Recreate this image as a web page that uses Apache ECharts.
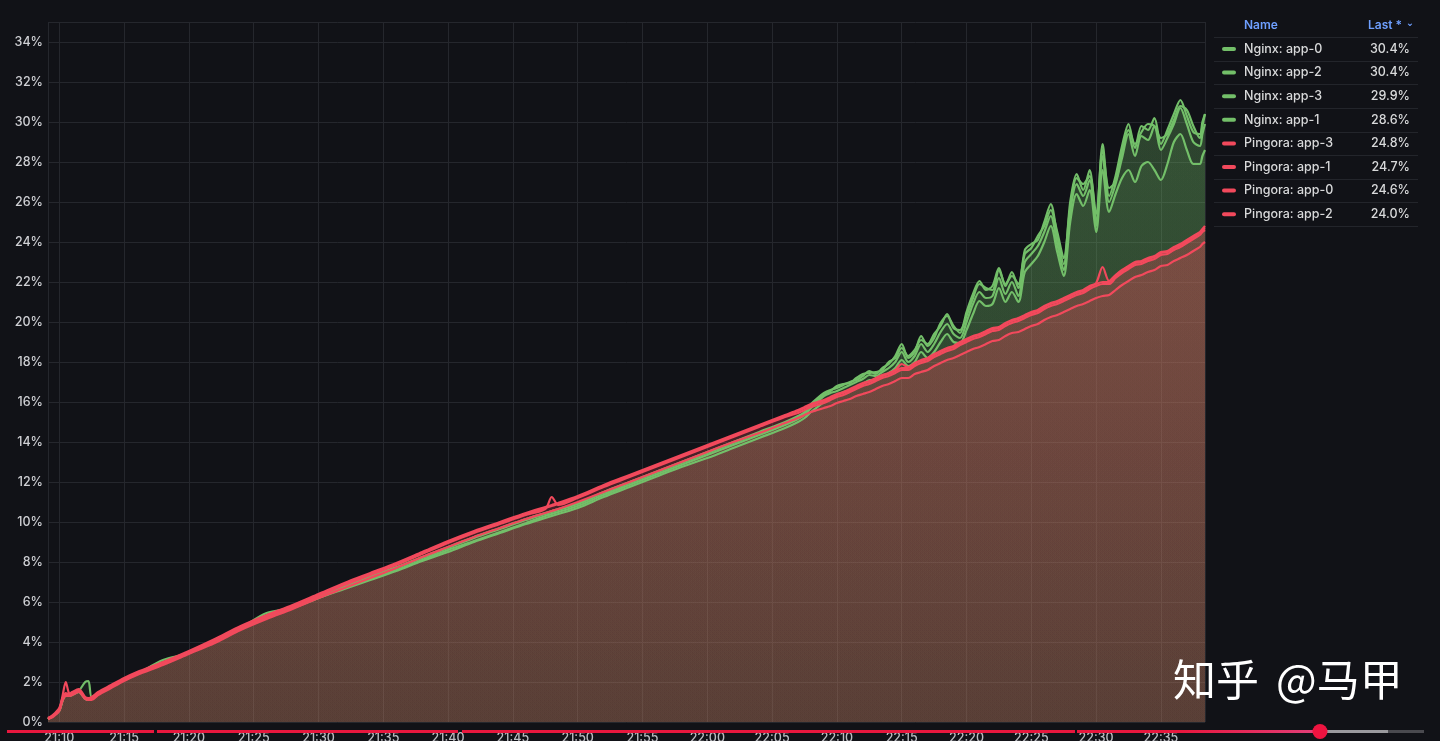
<!DOCTYPE html>
<html>
<head>
<meta charset="utf-8">
<script src="https://cdn.jsdelivr.net/npm/echarts@6/dist/echarts.min.js"></script>
<style>
html,body{margin:0;padding:0;background:#111217;}
#chart{width:1440px;height:741px;}
</style>
</head>
<body>
<div id="chart"></div>
<script>
// minutes after 21:10
const minutes = [
 -0.87,-0.5,0,0.25,0.5,0.75,1,1.5,2,2.25,2.5,3,4,
 5,6,8,10,12,14,16,18,20,22,
 24,26,28,30,32,34,36,37.5,38,38.5,
 40,42,44,46,48,50,52,54,56,
 57,57.5,58,58.5,59,59.5,60,60.5,61,61.5,
 62,62.5,63,63.5,64,64.5,65,65.5,66,66.5,
 67,67.5,68,68.5,69,69.5,70,70.5,71,71.5,
 72,72.5,73,73.5,74,74.5,75,75.5,76,76.5,
 77,77.5,78,78.5,79,79.5,80,80.5,81,81.5,
 82,82.5,83,83.5,84,84.5,85,85.5,86,86.5,
 87,87.5,88,88.2,88.4
];

const nginxApp0 = [
 0.15,0.3,0.6,1.1,1.35,1.35,1.4,1.55,1.2,1.15,1.2,1.45,1.8,
 2.15,2.45,2.95,3.5,4.1,4.75,5.3,5.8,6.3,6.8,
 7.3,7.75,8.25,8.75,9.25,9.7,10.15,10.45,10.55,10.65,
 10.95,11.5,12.0,12.5,13.0,13.5,14.0,14.5,15.0,
 15.3,15.5,15.9,16.2,16.45,16.6,16.7,16.85,17.0,17.1,
 17.3,17.55,17.4,17.7,17.9,18.3,18.9,18.2,18.5,19.3,
 18.8,19.2,19.95,20.3,19.8,19.45,20.5,21.4,22.05,21.6,
 21.8,22.7,21.8,22.5,21.7,23.6,23.9,24.1,25.0,25.9,
 24.3,22.9,26.0,27.4,26.6,27.6,25.0,28.9,26.3,27.3,
 28.8,29.9,28.7,29.8,29.6,30.2,28.9,29.6,30.4,31.1,
 30.3,29.5,29.4,30.0,30.4
];
const nginxApp2 = [
 0.15,0.3,0.6,1.1,1.35,1.35,1.4,1.55,2.0,2.05,1.25,1.45,1.8,
 2.15,2.45,2.95,3.5,4.1,4.7,5.25,5.75,6.25,6.75,
 7.25,7.7,8.2,8.7,9.2,9.65,10.1,10.4,10.5,10.6,
 10.9,11.45,11.95,12.45,12.95,13.45,13.95,14.45,14.95,
 15.25,15.45,15.85,16.1,16.4,16.55,16.8,16.9,16.95,17.2,
 17.4,17.45,17.5,17.6,18.0,18.2,18.7,18.3,18.6,19.1,
 18.9,19.4,19.8,20.4,19.7,19.6,20.3,21.2,21.9,21.7,
 21.6,22.6,21.9,22.3,21.9,23.4,23.7,24.3,24.8,25.6,
 24.5,23.2,25.7,27.2,26.9,27.3,25.4,28.6,26.7,27.0,
 28.5,29.6,28.9,29.5,29.9,29.8,29.2,29.4,30.1,30.8,
 30.6,29.8,29.2,29.8,30.4
];
const nginxApp3 = [
 0.15,0.3,0.6,1.1,1.35,1.35,1.4,1.5,1.2,1.1,1.15,1.4,1.75,
 2.1,2.4,3.1,3.45,4.05,4.7,5.45,5.7,6.2,6.7,
 7.15,7.6,8.1,8.6,9.05,9.5,9.95,10.3,10.4,10.5,
 10.8,11.35,11.85,12.35,12.85,13.35,13.85,14.35,14.85,
 15.15,15.35,15.7,16.0,16.3,16.45,16.55,16.7,16.85,17.0,
 17.15,17.35,17.3,17.5,17.7,18.0,18.5,18.0,18.3,18.9,
 18.5,18.9,19.5,19.9,19.4,19.2,20.0,20.9,21.5,21.2,
 21.3,22.2,21.4,22.0,21.3,23.0,23.4,23.8,24.5,25.3,
 23.9,22.6,25.5,26.9,26.3,27.1,24.8,28.3,26.0,26.9,
 28.2,29.4,28.3,29.3,29.1,29.8,28.6,29.2,29.9,30.7,
 29.9,29.0,28.8,29.4,29.9
];
const nginxApp1 = [
 0.15,0.3,0.55,1.05,1.3,1.3,1.35,1.5,1.15,1.1,1.15,1.4,1.75,
 2.1,2.4,2.9,3.45,4.05,4.65,5.2,5.7,6.2,6.65,
 7.1,7.55,8.05,8.5,9.0,9.45,9.9,10.2,10.3,10.4,
 10.7,11.25,11.75,12.25,12.75,13.2,13.7,14.2,14.7,
 15.0,15.2,15.5,15.75,16.0,16.2,16.35,16.5,16.6,16.75,
 16.9,17.1,17.1,17.3,17.45,17.7,18.1,17.8,18.0,18.5,
 18.2,18.5,19.0,19.4,19.0,18.95,19.6,20.4,21.05,20.8,
 20.9,21.7,21.0,21.5,21.0,22.5,22.9,23.3,24.0,24.8,
 23.5,22.3,25.0,26.4,25.8,26.6,24.5,27.6,25.5,26.4,
 27.2,27.6,27.0,27.8,28.0,27.6,27.1,27.9,29.0,29.4,
 28.6,27.9,27.9,28.3,28.6
];
const pingoraApp3 = [
 0.2,0.35,0.7,1.2,1.45,1.4,1.5,1.65,1.25,1.2,1.25,1.5,1.85,
 2.2,2.5,3.0,3.55,4.15,4.8,5.35,5.85,6.4,6.95,
 7.45,7.95,8.5,9.05,9.55,10.0,10.45,10.75,10.85,10.95,
 11.3,11.85,12.35,12.85,13.35,13.85,14.35,14.85,15.35,
 15.6,15.75,15.9,16.0,16.1,16.25,16.4,16.5,16.65,16.8,
 16.95,17.05,17.2,17.35,17.45,17.6,17.9,17.75,17.95,18.1,
 18.2,18.4,18.55,18.7,18.8,19.0,19.15,19.3,19.4,19.55,
 19.7,19.75,19.95,20.1,20.2,20.35,20.5,20.6,20.8,20.95,
 21.05,21.2,21.35,21.5,21.6,21.8,21.95,22.75,22.05,22.35,
 22.6,22.8,23.0,23.05,23.2,23.3,23.5,23.55,23.75,23.9,
 24.1,24.3,24.5,24.65,24.8
];
const pingoraApp1 = [
 0.2,0.3,0.65,1.15,1.4,1.35,1.45,1.6,1.2,1.15,1.2,1.45,1.8,
 2.15,2.45,2.95,3.5,4.1,4.75,5.3,5.8,6.35,6.9,
 7.4,7.9,8.45,9.0,9.5,9.95,10.4,10.7,10.8,10.9,
 11.25,11.8,12.3,12.8,13.3,13.8,14.3,14.8,15.3,
 15.55,15.7,15.85,15.95,16.05,16.2,16.35,16.45,16.6,16.75,
 16.9,17.0,17.15,17.3,17.4,17.55,17.7,17.7,17.9,18.05,
 18.15,18.35,18.5,18.65,18.75,18.95,19.1,19.25,19.35,19.5,
 19.65,19.7,19.9,20.05,20.15,20.3,20.45,20.55,20.75,20.9,
 21.0,21.15,21.3,21.45,21.55,21.75,21.9,22.0,22.0,22.3,
 22.55,22.75,22.95,23.0,23.15,23.25,23.45,23.5,23.7,23.85,
 24.05,24.25,24.45,24.6,24.7
];
const pingoraApp0 = [
 0.15,0.3,0.6,1.3,2.0,1.45,1.4,1.55,1.2,1.1,1.15,1.4,1.75,
 2.1,2.4,2.9,3.45,4.05,4.7,5.25,5.75,6.3,6.85,
 7.35,7.85,8.4,8.95,9.45,9.9,10.35,10.65,11.25,10.85,
 11.2,11.75,12.25,12.75,13.25,13.75,14.25,14.75,15.25,
 15.45,15.6,15.75,15.85,15.95,16.1,16.25,16.35,16.5,16.65,
 16.8,16.9,17.05,17.2,17.3,17.45,17.6,17.6,17.8,17.95,
 18.05,18.25,18.4,18.55,18.65,18.85,19.0,19.15,19.25,19.4,
 19.55,19.6,19.8,19.95,20.05,20.2,20.35,20.45,20.65,20.8,
 20.9,21.05,21.2,21.35,21.45,21.65,21.8,21.9,21.9,22.2,
 22.45,22.65,22.85,22.9,23.05,23.15,23.35,23.4,23.6,23.75,
 23.95,24.15,24.35,24.5,24.6
];
const pingoraApp2 = [
 0.15,0.25,0.55,1.05,1.3,1.3,1.35,1.5,1.15,1.1,1.1,1.35,1.7,
 2.05,2.35,2.85,3.4,3.95,4.6,5.15,5.65,6.2,6.7,
 7.2,7.7,8.25,8.75,9.25,9.7,10.15,10.45,10.55,10.65,
 11.0,11.5,12.0,12.5,13.0,13.5,14.0,14.45,14.95,
 15.2,15.35,15.5,15.6,15.7,15.8,15.95,16.05,16.15,16.3,
 16.4,16.5,16.65,16.8,16.9,17.05,17.2,17.2,17.4,17.5,
 17.6,17.8,17.95,18.1,18.2,18.35,18.5,18.65,18.75,18.9,
 19.05,19.1,19.3,19.45,19.5,19.65,19.8,19.9,20.1,20.25,
 20.35,20.5,20.65,20.8,20.9,21.05,21.2,21.3,21.35,21.6,
 21.85,22.05,22.25,22.35,22.5,22.6,22.8,22.85,23.05,23.2,
 23.35,23.55,23.75,23.9,24.0
];

// legend table (sorted by Last)
const legendNames = ['Nginx: app-0','Nginx: app-2','Nginx: app-3','Nginx: app-1','Pingora: app-3','Pingora: app-1','Pingora: app-0','Pingora: app-2'];
const legendLast = ['30.4%','30.4%','29.9%','28.6%','24.8%','24.7%','24.6%','24.0%'];
const yTickStep = 2;
const xStartHour = 21, xStartMinute = 10; // minute 0 of the x axis

const GREEN = '#73BF69', RED = '#F2495C';

const seriesList = [
  ['Nginx: app-0', nginxApp0], ['Nginx: app-2', nginxApp2], ['Nginx: app-3', nginxApp3], ['Nginx: app-1', nginxApp1],
  ['Pingora: app-3', pingoraApp3], ['Pingora: app-1', pingoraApp1], ['Pingora: app-0', pingoraApp0], ['Pingora: app-2', pingoraApp2]
];

function fillGrad(rgb) {
  return new echarts.graphic.LinearGradient(0, 0, 0, 1, [
    {offset: 0, color: 'rgba(' + rgb + ',0.155)'},
    {offset: 1, color: 'rgba(' + rgb + ',0.095)'}
  ]);
}

const series = seriesList.map(([name, vals]) => {
  const isN = name.startsWith('Nginx');
  const c = isN ? GREEN : RED;
  return {
    name, type: 'line', showSymbol: false, symbol: 'none',
    smooth: 0.3,
    data: minutes.map((m, i) => [m, vals[i]]),
    lineStyle: {color: c, width: 2.2},
    itemStyle: {color: c},
    areaStyle: {color: fillGrad(isN ? '115,191,105' : '242,73,92')},
    emphasis: {disabled: true},
    z: 2
  };
});

function fmtMinute(v) {
  const total = xStartHour * 60 + xStartMinute + Math.round(v);
  const h = Math.floor(total / 60) % 24, m = total % 60;
  return String(h).padStart(2, '0') + ':' + String(m).padStart(2, '0');
}

// legend graphics
const graphics = [];
const rowY0 = 49, rowH = 23.6;
graphics.push({type: 'text', x: 1244, y: 25, style: {text: 'Name', fill: '#6E9FFF', font: '600 12px Inter', verticalAlign: 'middle'}, silent: true});
graphics.push({type: 'text', x: 1402, y: 25, style: {text: 'Last *', fill: '#6E9FFF', font: '600 12px Inter', align: 'right', verticalAlign: 'middle'}, silent: true});
graphics.push({type: 'text', x: 1410, y: 23, style: {text: '⌄', fill: '#6E9FFF', font: '600 10px DejaVu Sans', align: 'center', verticalAlign: 'middle'}, silent: true});
for (let i = 0; i <= legendNames.length; i++) {
  const y = Math.round(rowY0 - rowH / 2 + i * rowH) + 0.5;
  graphics.push({type: 'line', shape: {x1: 1214, y1: y, x2: 1418, y2: y}, style: {stroke: '#23252b', lineWidth: 1}, silent: true});
}
legendNames.forEach((n, i) => {
  const y = rowY0 + i * rowH;
  const c = n.startsWith('Nginx') ? GREEN : RED;
  graphics.push({type: 'line', shape: {x1: 1224, y1: y, x2: 1234, y2: y}, style: {stroke: c, lineWidth: 4, lineCap: 'round'}, silent: true});
  graphics.push({type: 'text', x: 1244, y: y, style: {text: n, fill: '#d8d9da', font: '500 12.5px Inter', verticalAlign: 'middle'}, silent: true});
  graphics.push({type: 'text', x: 1410, y: y, style: {text: legendLast[i], fill: '#d8d9da', font: '500 12.5px Inter', align: 'right', verticalAlign: 'middle'}, silent: true});
});

// video overlay: progress bar & watermark
const barY = 730;
[[7, 154], [157, 458], [462, 1075], [1077, 1320]].forEach(([a, b]) => {
  graphics.push({type: 'rect', shape: {x: a, y: barY, width: b - a, height: 3}, style: {fill: '#e8173e'}, silent: true, z: 10});
});
graphics.push({type: 'rect', shape: {x: 1180, y: barY, width: 140, height: 3}, style: {fill: new echarts.graphic.LinearGradient(0, 0, 1, 0, [{offset: 0, color: '#e8173e'}, {offset: 1, color: '#e2407a'}])}, silent: true, z: 10});
graphics.push({type: 'rect', shape: {x: 1320, y: barY, width: 68, height: 3}, style: {fill: '#9a9a9e'}, silent: true, z: 10});
graphics.push({type: 'rect', shape: {x: 1388, y: barY, width: 36, height: 3}, style: {fill: '#4a4a4f'}, silent: true, z: 10});
graphics.push({type: 'circle', shape: {cx: 1320, cy: barY + 1.5, r: 7.5}, style: {fill: '#ee1440'}, silent: true, z: 11});
const wmStyle = {fill: '#ffffff', verticalAlign: 'middle', shadowColor: 'rgba(0,0,0,0.6)', shadowBlur: 3, shadowOffsetX: 1, shadowOffsetY: 1};
graphics.push({type: 'text', x: 1173, y: 680, style: Object.assign({text: '知乎', font: '400 43px "Noto Sans CJK SC"'}, wmStyle), silent: true, z: 12});
graphics.push({type: 'text', x: 1276, y: 680, style: Object.assign({text: '@马甲', font: '400 43px "Noto Sans CJK SC"'}, wmStyle), silent: true, z: 12});

const chart = echarts.init(document.getElementById('chart'), null, {renderer: 'canvas'});
chart.setOption({
  backgroundColor: '#111217',
  animation: false,
  grid: {left: 48, right: 235, top: 22, bottom: 19, containLabel: false, outerBoundsMode: 'none'},
  xAxis: {
    type: 'value',
    min: -0.87, max: 88.4,
    splitNumber: 18, minInterval: 5, maxInterval: 5,
    axisLine: {show: false}, axisTick: {show: false},
    axisLabel: {formatter: fmtMinute, color: '#bcbdc2', fontFamily: 'Inter', fontSize: 12.5, fontWeight: 500, margin: 10, showMinLabel: false, showMaxLabel: false, hideOverlap: false},
    splitLine: {show: true, lineStyle: {color: '#25272d', width: 1}}
  },
  yAxis: {
    type: 'value', min: 0, max: 35, interval: yTickStep,
    axisLine: {show: false}, axisTick: {show: false},
    axisLabel: {formatter: v => (v % yTickStep === 0 ? v + '%' : ''), color: '#cfd0d4', fontFamily: 'Inter', fontSize: 12.5, fontWeight: 500, margin: 5, showMaxLabel: false},
    splitLine: {show: true, lineStyle: {color: '#25272d', width: 1}}
  },
  series,
  graphic: graphics
});
</script>
</body>
</html>
